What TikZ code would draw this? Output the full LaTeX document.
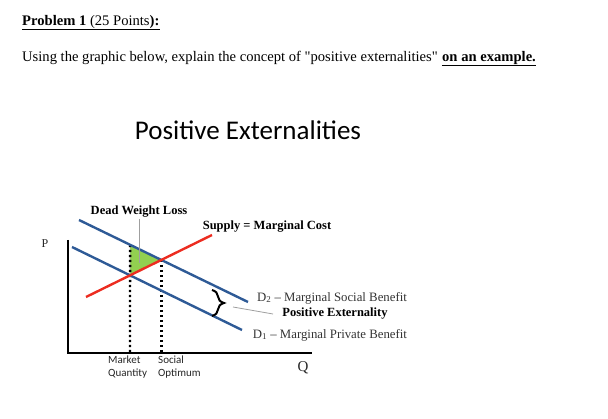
\documentclass[tikz,border=0pt]{standalone}
\usepackage{fontspec}
\setmainfont{Liberation Serif}
\newfontfamily\calibri{Carlito}
\usetikzlibrary{decorations.pathreplacing,calc}
\definecolor{dblue}{RGB}{46,90,150}
\definecolor{sred}{RGB}{236,44,32}
\definecolor{dwgreen}{RGB}{146,208,80}
\tikzset{
  axisline/.style={line width=2.2pt},
  curve/.style={line width=2.4pt},
  dotline/.style={line width=2.4pt, dash pattern=on 2.4pt off 2.6pt},
  pointer/.style={draw=gray!75, line width=0.8pt},
  glbl/.style={font=\fontsize{12.5}{14}\selectfont\bfseries, inner sep=1pt},
  dlbl/.style={font=\fontsize{12.8}{15}\selectfont, text=black!80, inner sep=1pt},
  slbl/.style={font=\calibri\fontsize{11}{13}\selectfont, align=left, anchor=north west, inner sep=0pt, text=black!85},
  headf/.style={font=\fontsize{14.6}{17}\selectfont},
  headb/.style={font=\fontsize{14.6}{17}\selectfont\bfseries},
}
\begin{document}
\begin{tikzpicture}[x=1pt,y=-1pt]
\useasboundingbox (0,0) rectangle (608,419);
% header
\node[anchor=base west, inner sep=0pt, headf] (h1) at (22,26) {\textbf{Problem 1} (25 Points\textbf{):}};
\draw[line width=1.4pt] (h1.south west) -- (h1.south east);
\node[anchor=base west, inner sep=0pt, headf] (l2a) at (22,62) {Using the graphic below, explain the concept of \textquotedbl positive externalities\textquotedbl};
\node[anchor=base west, inner sep=0pt, headb] (l2b) at ([xshift=4pt]l2a.base east) {on an example.};
\draw[line width=1.4pt] (l2b.south west) -- (l2b.south east);
% title
\node[font=\calibri\fontsize{27}{30}\selectfont] (title) at (248,130) {Positive Externalities};
% axes
\coordinate (yt) at (68,240);
\coordinate (o) at (68,353);
\coordinate (xr) at (312,353);
% curves end points
\coordinate (d2a) at (79,220);
\coordinate (d2b) at (248,302);
\coordinate (d1a) at (72,247);
\coordinate (d1b) at (242,330);
\coordinate (sa) at (86,297);
\coordinate (sb) at (212,235);
\coordinate (mkt) at (intersection of d1a--d1b and sa--sb);
\coordinate (soc) at (intersection of d2a--d2b and sa--sb);
\coordinate (mkb) at (mkt |- o);
\coordinate (socb) at (soc |- o);
\coordinate (mktop) at (intersection of d2a--d2b and mkt--mkb);
% dead weight loss triangle
\fill[dwgreen] (mktop) -- (soc) -- (mkt) -- cycle;
\draw[draw=gray!60, line width=0.6pt] (mktop) -- (soc) -- (mkt) -- cycle;
% dotted lines
\draw[dotline] (mktop) -- (mkb);
\draw[dotline] (soc) -- (socb);
% axes
\draw[axisline] (yt) -- (o) -- (xr);
% curves
\draw[curve, dblue] (d2a) -- (d2b);
\draw[curve, dblue] (d1a) -- (d1b);
\draw[curve, sred] (sa) -- (sb);
% labels
\node[glbl] (dwl) at (139,212) {Dead Weight Loss};
\coordinate (dwlp) at ($(mktop)!0.5!(soc)!0.45!(mkt)$);
\draw[pointer] (dwl.south) -- (dwl.south |- dwlp);
\node[glbl] (slab) at (267,227) {Supply = Marginal Cost};
% brace
\draw[line width=2pt, decorate, decoration={brace, amplitude=12pt}] (212,290) -- (212,316);
\coordinate (bt) at (233,307);
\coordinate (pend) at (273,314);
\draw[pointer] (bt) -- (pend);
\node[dlbl] (d2l) at (332,298) {D\textsubscript{2} – Marginal Social Benefit};
\node[glbl] (pe) at (335,314) {Positive Externality};
\node[dlbl] (d1l) at (330,335) {D\textsubscript{1} – Marginal Private Benefit};
\node[font=\fontsize{15}{17}\selectfont, text=black!85] (q) at (303,368) {Q};
\node[font=\fontsize{12}{14}\selectfont, text=black!85] (p) at (45,244) {P};
\node[slbl] (mq) at (108,356) {Market\\Quantity};
\node[slbl] (so) at (158,356) {Social\\Optimum};
\end{tikzpicture}
\end{document}
